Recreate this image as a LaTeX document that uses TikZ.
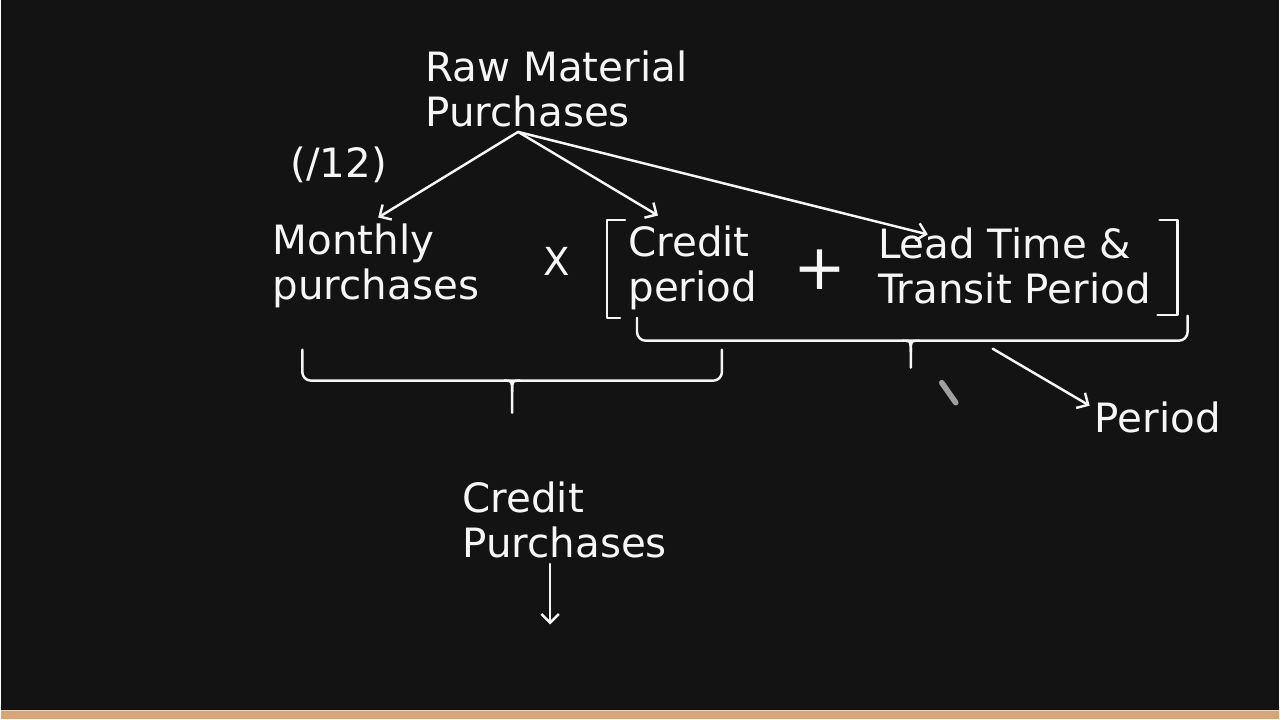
\documentclass[tikz,border=0pt]{standalone}
\usepackage{fontspec}
\setmainfont{DejaVu Sans}
\usetikzlibrary{arrows.meta,calc}
\definecolor{board}{RGB}{19,19,19}
\definecolor{wood}{RGB}{214,166,122}
\definecolor{chalk}{RGB}{246,246,246}

\begin{document}
\begin{tikzpicture}[x=0.02cm,y=-0.02cm,
    chalkline/.style={draw=chalk, line width=1.4pt, line cap=round, line join=round},
    arr/.style={chalkline, -{Straight Barb[length=5pt,width=10pt]}},
    txt/.style={text=chalk, font=\fontsize{23}{25.5}\selectfont, align=left, inner sep=0pt, anchor=west}]
    % Board
    \fill[board] (0,0) rectangle (1280,720);
    \fill[wood] (0,711) rectangle (1280,720);
    \draw[wood!50!white, line width=0.6pt] (0,711) -- (1280,711);

    % Texts
    \node[txt] (raw) at (425,89) {Raw Material\\Purchases};
    \node[txt] (div) at (290,165) {(/12)};
    \node[txt] (monthly) at (272,266) {Monthly\\purchases};
    \node[txt, font=\fontsize{22}{24}\selectfont] (times) at (543,262) {X};
    \node[txt] (credit) at (628,268) {Credit\\period};
    \node[txt, font=\fontsize{36}{38}\selectfont] (plus) at (793,270) {+};
    \node[txt] (lead) at (878,266) {Lead Time \&\\Transit Period};
    \node[txt] (period) at (1095,418) {Period};
    \node[txt] (cp) at (462,520) {Credit\\Purchases};

    % Arrows from raw material purchases
    \coordinate (fork) at (518,132);
    \draw[arr] (fork) -- ($(monthly.north west)+(106,-6)$);
    \draw[arr] (fork) -- ($(credit.north west)+(30,-10)$);
    \draw[arr] (fork) -- ($(lead.north west)+(50,7)$);

    % Square brackets
    \draw[chalkline] (625,220) -- (607,220) -- (607,318) -- (620,318);
    \draw[chalkline] (1160,220) -- (1178,220) -- (1178,315) -- (1158,315);

    % Braces
    \draw[chalkline, rounded corners=5pt] (637,318) -- (637,341) -- (1188,341) -- (1188,316);
    \draw[chalkline] (903,341) .. controls (911,341) .. (911,352) -- (911,368);
    \draw[chalkline] (919,341) .. controls (911,341) .. (911,352);
    \draw[chalkline, rounded corners=5pt] (302,350) -- (302,381) -- (722,381) -- (722,350);
    \draw[chalkline] (504,381) .. controls (512,381) .. (512,392) -- (512,413);
    \draw[chalkline] (520,381) .. controls (512,381) .. (512,392);

    % Arrow to period
    \coordinate (brtip) at (993,349);
    \draw[arr] (brtip) -- ($(period.north west)+(-5,4)$);

    % Chalk stick
    \draw[gray!75, line width=3.2pt, line cap=round] (942,383) -- (956,403);

    % Arrow below credit purchases
    \coordinate (down) at (550,625);
    \draw[arr] ($(cp.south west)+(88,6)$) -- (down);
\end{tikzpicture}
\end{document}
